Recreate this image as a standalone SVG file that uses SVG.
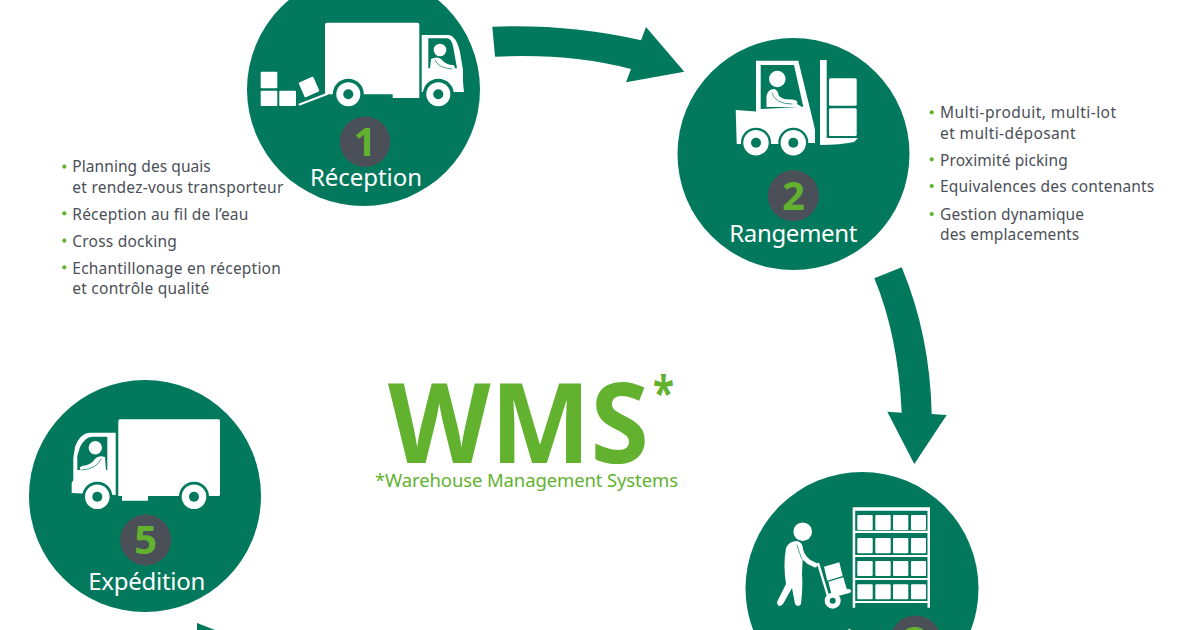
<svg xmlns="http://www.w3.org/2000/svg" width="1200" height="630" viewBox="0 0 1200 630">
<style>
.disc{fill:#02795d}
.badge{fill:#4b4f58}
.num{fill:#62b22f;font:700 40px "Noto Sans","DejaVu Sans",sans-serif;text-anchor:middle}
.title{fill:#fff;font:400 24px "Noto Sans","DejaVu Sans",sans-serif}
.w{fill:#fff}
.g{fill:#02795d}
.ws{fill:none;stroke:#fff;stroke-linecap:round;stroke-linejoin:round}
.gs{fill:none;stroke:#02795d;stroke-linecap:round}
.li{fill:#4b4f58;font:400 15.5px "Noto Sans","DejaVu Sans",sans-serif}
.dot{fill:#62b22f}
.logo{fill:#62b22f;font-family:"Noto Sans","DejaVu Sans",sans-serif}
</style>
<rect width="1200" height="630" fill="#fff"/>

<g id="connectors" class="g">
<path d="M492.3 26.7Q570 24 641 40.3L646 27L684.3 71.7L626 82.3L631 69Q570 53 495 56.7Z"/>
<path d="M874.3 278.3L901.7 267.3Q930 335 931.7 414L946.7 415L914.3 464L887.3 411.7L901.7 412.7Q898 335 874.3 278.3Z"/>
<path d="M197 623L215 630L197 630Z"/>
</g>

<g id="node-reception">
<circle class="disc" cx="363.5" cy="89.5" r="116.5"/>
<path class="w" d="M327 22.7H417.5Q419.3 22.7 419.3 24.5V98H392.7V94.3H325V24.5Q325 22.7 327 22.7Z"/>
<path class="w" d="M421.7 35H448Q456 35 460 52L463 70V82L464 92H421.7Z"/>
<path class="g" d="M428.3 38.3H447Q451 38.3 453 46L457 68.3H428.3Z"/>
<circle class="w" cx="440" cy="50" r="6.3"/>
<path class="w" d="M431 59Q437 56 441 59Q446 65 453 65Q456 66 454 69H430Z"/>
<path class="gs" stroke-width=".7" d="M435 60Q438 68 452 69"/>
<rect class="w" x="428" y="71" width="6" height="1.6"/>
<circle class="g" cx="348.3" cy="94.3" r="15.5"/><circle class="w" cx="348.3" cy="94.3" r="12"/><circle class="g" cx="348.3" cy="94.3" r="5"/>
<circle class="g" cx="438.3" cy="94.3" r="15.5"/><circle class="w" cx="438.3" cy="94.3" r="12"/><circle class="g" cx="438.3" cy="94.3" r="5"/>
<rect class="w" x="260.7" y="71.7" width="16.6" height="16.6" rx="1"/>
<rect class="w" x="260.7" y="90.7" width="16.6" height="15.3" rx="1"/>
<rect class="w" x="279.3" y="90.7" width="16.7" height="15.3" rx="1"/>
<rect class="w" x="301" y="79" width="16" height="16" rx="1" transform="rotate(-24 309 87)"/>
<path class="ws" stroke-width="2" d="M299.5 104.5L327 94"/>
<circle class="badge" cx="365" cy="141.7" r="25.2"/>
<text class="num" x="365" y="156">1</text>
<text class="title" x="310" y="185.5" textLength="112">Réception</text>
</g>

<g id="node-rangement">
<circle class="disc" cx="793.5" cy="154" r="116"/>
<path class="w" fill-rule="evenodd" d="M756 60.7H798.3L813.5 123L815 130V143H806V144H736.7L735.7 110L756 111.5ZM760.7 65V109L803.3 106.7L794 65Z"/>
<circle class="w" cx="777.3" cy="79" r="8.3"/>
<path class="w" d="M766.5 107V96Q768 89 774 89Q778 90 779 96Q783 100 792 99.5Q799 100 797 104L802 107Z"/>
<path class="gs" stroke-width=".7" d="M772 93Q775 104 792 104"/>
<circle class="g" cx="756" cy="142.7" r="15"/><circle class="w" cx="756" cy="142.7" r="12.7"/><circle class="g" cx="756" cy="142.7" r="5"/>
<circle class="g" cx="793.3" cy="142.7" r="15"/><circle class="w" cx="793.3" cy="142.7" r="12.7"/><circle class="g" cx="793.3" cy="142.7" r="5"/>
<path class="w" d="M820 60H826.7V138H858L854 142Q840 145 820 145Z"/>
<rect class="w" x="829" y="78.3" width="27.7" height="27.4" rx="1.5"/>
<rect class="w" x="829" y="108.3" width="27.7" height="27.7" rx="1.5"/>
<circle class="badge" cx="793.3" cy="195.7" r="25.5"/>
<text class="num" x="793.5" y="210">2</text>
<text class="title" x="729.3" y="241.7" textLength="128">Rangement</text>
</g>

<g id="node-gestion">
<circle class="disc" cx="862" cy="588.5" r="116.5"/>
<path class="w" fill-rule="evenodd" d="M852.7 507.3H930V607.7H927.5V603H855.2V607.7H852.7ZM855.2 510.7V530.8H927.5V510.7ZM855.2 533V555H927.5V533ZM855.2 557V578H927.5V557ZM855.2 580V601H927.5V580Z"/>
<g class="w">
<rect x="857.3" y="515" width="15.4" height="15" rx="1"/><rect x="875.3" y="515" width="15.4" height="15" rx="1"/><rect x="893" y="515" width="15.3" height="15" rx="1"/><rect x="911" y="515" width="15" height="15" rx="1"/>
<rect x="857.3" y="538" width="15.4" height="15.3" rx="1"/><rect x="875.3" y="538" width="15.4" height="15.3" rx="1"/><rect x="893" y="538" width="15.3" height="15.3" rx="1"/><rect x="911" y="538" width="15" height="15.3" rx="1"/>
<rect x="857.3" y="561" width="15.4" height="15" rx="1"/><rect x="875.3" y="561" width="15.4" height="15" rx="1"/><rect x="893" y="561" width="15.3" height="15" rx="1"/><rect x="911" y="561" width="15" height="15" rx="1"/>
<rect x="857.3" y="584.3" width="15.4" height="15" rx="1"/><rect x="875.3" y="584.3" width="15.4" height="15" rx="1"/><rect x="893" y="584.3" width="15.3" height="15" rx="1"/><rect x="911" y="584.3" width="15" height="15" rx="1"/>
</g>
<circle class="w" cx="802.7" cy="531.7" r="9.3"/>
<path class="w" d="M786 548Q789 541 797 541Q803 542 803 550L802 575Q803 585 801 604Q798 608 795 604L792 588L783 604Q778 609 777 602L786 584Q783 565 786 548Z"/>
<path class="ws" stroke-width="5" d="M800 548Q803 561 815 565"/>
<path class="gs" stroke-width=".7" d="M797 545Q800 555 802 559"/>
<path class="ws" stroke-width="2.4" d="M818.3 564L828 596"/>
<path class="ws" stroke-width="4" d="M830 596L849 591"/>
<circle class="w" cx="832.7" cy="600.7" r="8"/><circle class="g" cx="832.7" cy="600.7" r="3"/>
<polygon class="w" points="824,566.7 839.3,562.3 842.7,576 827.3,580.7"/>
<polygon class="w" points="828.3,581.7 843.3,577.3 847.3,590.7 831.7,595"/>
<circle class="badge" cx="915.5" cy="641" r="25.5"/>
<text class="num" x="915.5" y="655">3</text>
<text class="title" x="795" y="647">Gestion</text>
</g>

<g id="node-expedition">
<circle class="disc" cx="145" cy="496" r="116"/>
<path class="w" d="M120 419.3H218.5Q220 419.3 220 421V494.5Q220 496 218.5 496H148V500.7H122V496H118.3V421Q118.3 419.3 120 419.3Z"/>
<path class="w" d="M115.7 432.7H90Q80 433 75 447L73.3 458V480L71.7 483V493L115.7 495Z"/>
<path class="g" d="M107.3 436.7H92Q85 437 80 447L77.3 456V470H107.3Z"/>
<circle class="w" cx="95.3" cy="447.7" r="6.7"/>
<path class="w" d="M105 457Q98 455 95 459Q91 465 82 466Q78 468 81 470H106Z"/>
<path class="gs" stroke-width=".7" d="M101 459Q97 469 82 470"/>
<rect class="w" x="102" y="470.5" width="6" height="1.8"/>
<circle class="g" cx="97.3" cy="496.7" r="15"/><circle class="w" cx="97.3" cy="496.7" r="12.3"/><circle class="g" cx="97.3" cy="496.7" r="5"/>
<circle class="g" cx="194" cy="496.7" r="15"/><circle class="w" cx="194" cy="496.7" r="12.3"/><circle class="g" cx="194" cy="496.7" r="5"/>
<circle class="badge" cx="145.7" cy="540" r="25.5"/>
<text class="num" x="145.7" y="554">5</text>
<text class="title" x="88.3" y="590" textLength="117">Expédition</text>
</g>

<g id="node-wms">
<text class="logo" x="388" y="463" font-size="112" font-weight="700" textLength="261" lengthAdjust="spacingAndGlyphs">WMS</text>
<text class="logo" x="653" y="410" font-size="46" font-weight="700" textLength="21" lengthAdjust="spacingAndGlyphs">*</text>
<text class="logo" x="375" y="487" font-size="18.5" textLength="303">*Warehouse Management Systems</text>
</g>

<g id="list-reception">
<circle class="dot" cx="64.3" cy="166.7" r="2.1"/><circle class="dot" cx="64.3" cy="213.3" r="2.1"/><circle class="dot" cx="64.3" cy="240.7" r="2.1"/><circle class="dot" cx="64.3" cy="267.3" r="2.1"/>
<text class="li" x="72.3" y="172" textLength="138.5">Planning des quais</text>
<text class="li" x="72.3" y="193" textLength="211">et rendez-vous transporteur</text>
<text class="li" x="72.3" y="219.5" textLength="176">Réception au fil de l’eau</text>
<text class="li" x="72.3" y="246.5" textLength="104.5">Cross docking</text>
<text class="li" x="72.3" y="273.5" textLength="208.5">Echantillonage en réception</text>
<text class="li" x="72.3" y="293.5" textLength="137">et contrôle qualité</text>
</g>

<g id="list-rangement">
<circle class="dot" cx="931.7" cy="112.3" r="2.1"/><circle class="dot" cx="931.7" cy="159.3" r="2.1"/><circle class="dot" cx="931.7" cy="186" r="2.1"/><circle class="dot" cx="931.7" cy="214" r="2.1"/>
<text class="li" x="940" y="118.3" textLength="176">Multi-produit, multi-lot</text>
<text class="li" x="940" y="139.3" textLength="135.7">et multi-déposant</text>
<text class="li" x="940" y="166" textLength="127.7">Proximité picking</text>
<text class="li" x="940" y="192.3" textLength="214.3">Equivalences des contenants</text>
<text class="li" x="940" y="220" textLength="144">Gestion dynamique</text>
<text class="li" x="940" y="240" textLength="139.3">des emplacements</text>
</g>
</svg>
